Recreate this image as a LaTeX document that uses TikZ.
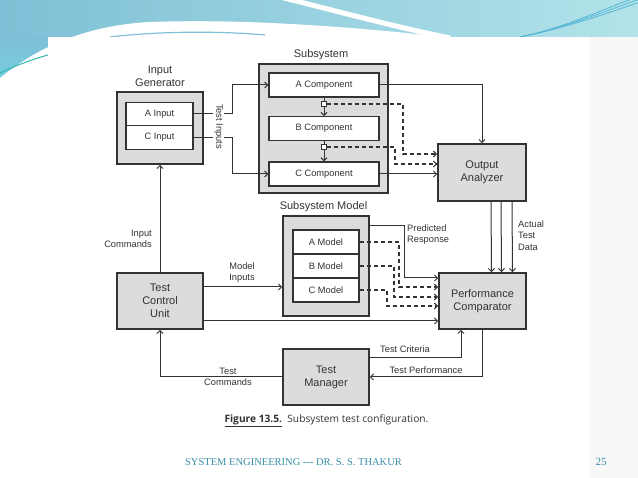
\documentclass[tikz,border=0pt]{standalone}
\usepackage{fontspec}
\setmainfont{Liberation Sans}
\newfontfamily\capfont{Open Sans}
\newfontfamily\footfont{Liberation Serif}
\usetikzlibrary{arrows.meta,calc}
\definecolor{ink}{HTML}{333333}
\definecolor{boxgray}{HTML}{DCDCDC}
\definecolor{hdrleft}{HTML}{7FC0D6}
\definecolor{hdrright}{HTML}{B2E3E9}
\definecolor{hdrlow}{HTML}{72CFDE}
\definecolor{streak}{HTML}{55B6D6}
\definecolor{tealline}{HTML}{2FB7A8}
\definecolor{sidegray}{HTML}{F7F7F7}
\definecolor{footteal}{HTML}{3A8FA8}

\tikzset{
  outerbox/.style={draw=ink, line width=1.6pt, fill=boxgray, inner sep=0pt},
  partbox/.style={draw=ink, line width=1.2pt, fill=white, inner sep=0pt,
    font=\fontsize{9.3}{11}\selectfont, text=ink},
  unitbox/.style={outerbox, align=center, font=\fontsize{11}{13}\selectfont, text=ink},
  title/.style={align=center, font=\fontsize{11}{13}\selectfont, text=ink},
  lbl/.style={align=center, font=\fontsize{9.3}{11.5}\selectfont, text=ink, inner sep=1pt},
  jct/.style={draw=ink, fill=white, line width=0.8pt, minimum size=4.5pt, inner sep=0pt},
  conn/.style={draw=ink, line width=1pt, -{Straight Barb[length=3pt,width=6pt]}},
  dconn/.style={conn, line width=1.2pt, dash pattern=on 4pt off 3pt},
  plain/.style={draw=ink, line width=1pt}
}

\begin{document}
\begin{tikzpicture}[x=1pt,y=-1pt]
  \useasboundingbox (0,0) rectangle (638,478);
  % slide background
  \fill[white] (0,0) rectangle (638,478);
  \fill[sidegray] (590,37) rectangle (638,478);
  \shade[left color=hdrleft, right color=hdrright] (0,0) rectangle (638,37);
  \shade[top color=hdrleft, bottom color=hdrlow] (0,37) rectangle (48,82);
  \fill[white] (0,78) .. controls (40,45) and (90,25) .. (150,22)
    .. controls (260,18) and (380,30) .. (445,37) -- (445,82) -- (0,82) -- cycle;
  \draw[white, line width=5pt] (280,-3) .. controls (340,12) and (400,28) .. (450,38);
  \draw[tealline, line width=1pt] (0,73) .. controls (15,66) and (30,60) .. (48,55);
  \draw[hdrleft, line width=1.2pt] (110,37) .. controls (160,31) and (220,31) .. (265,35);
  \foreach \dy in {0,3,6}
    \draw[streak, line width=0.8pt] (520,37) .. controls (565,28) and (605,\dy+8) .. (640,\dy-4);
  \fill[white] (48,37) rectangle (590,440);

  % input generator
  \node[title] (igtitle) at (160,76.5) {Input\\Generator};
  \node[outerbox, minimum width=86pt, minimum height=72pt] (ig) at (160,128) {};
  \node[partbox, minimum width=67pt, minimum height=23.5pt] (ain) at (159.5,114) {A Input};
  \node[partbox, minimum width=67pt, minimum height=23.5pt] (cin) at (159.5,137.5) {C Input};

  % subsystem
  \node[title] (sstitle) at (321,55) {Subsystem};
  \node[outerbox, minimum width=129pt, minimum height=129pt] (ss) at (323.5,128.5) {};
  \node[partbox, minimum width=110pt, minimum height=24pt] (acomp) at (324,85) {A Component};
  \node[partbox, minimum width=110pt, minimum height=23.5pt] (bcomp) at (324,128.5) {B Component};
  \node[partbox, minimum width=110pt, minimum height=24pt] (ccomp) at (324,174) {C Component};
  \node[jct] (j1) at (324,104) {};
  \node[jct] (j2) at (324,147) {};

  \node[unitbox, minimum width=88pt, minimum height=57pt] (oa) at (482,172.5) {Output\\Analyzer};

  % subsystem model
  \node[title] (smtitle) at (323.5,207) {Subsystem Model};
  \node[outerbox, minimum width=86pt, minimum height=100pt] (sm) at (326,266) {};
  \node[partbox, minimum width=66pt, minimum height=24pt] (amod) at (326,242) {A Model};
  \node[partbox, minimum width=66pt, minimum height=24pt] (bmod) at (326,266) {B Model};
  \node[partbox, minimum width=66pt, minimum height=24pt] (cmod) at (326,290) {C Model};

  \node[unitbox, minimum width=86pt, minimum height=56pt] (tcu) at (160,301) {Test\\Control\\Unit};
  \node[unitbox, minimum width=87pt, minimum height=56pt] (pc) at (482.5,301) {Performance\\Comparator};
  \node[unitbox, minimum width=86pt, minimum height=56pt] (tm) at (326,377) {Test\\Manager};

  % test inputs
  \coordinate (tbus) at (232,0);
  \draw[conn] (ain.east) -- (ain.east -| tbus) |- (acomp.west);
  \draw[conn] (cin.east) -- (cin.east -| tbus) |- (ccomp.west);
  \node[lbl, rotate=-90, fill=white] (tilbl) at (218.5,126.5) {Test Inputs};

  % inside the subsystem
  \draw[plain] (acomp.south) -- (j1.north);
  \draw[conn] (j1.south) -- (bcomp.north);
  \draw[plain] (bcomp.south) -- (j2.north);
  \draw[conn] (j2.south) -- (ccomp.north);

  % into the output analyzer
  \draw[conn] (acomp.east) -| (oa.north);
  \draw[conn] (ccomp.east) -- (ccomp.east -| oa.west);
  \coordinate (d1) at (403,154);
  \coordinate (d2) at (395,164);
  \draw[dconn] (j1.east) -| (d1) -- (d1 -| oa.west);
  \draw[dconn] (j2.east) -| (d2) -- (d2 -| oa.west);

  % test control unit outputs
  \draw[conn] (tcu.north) -- (ig.south);
  \node[lbl, align=right, anchor=east] (iclbl) at (153,239) {Input\\Commands};
  \coordinate (mi) at ([yshift=14pt]tcu.east);
  \draw[conn] (mi) -- (mi -| sm.west);
  \node[lbl] (milbl) at (242,272.5) {Model\\Inputs};
  \coordinate (tp) at ([yshift=-20pt]tcu.east);
  \draw[conn] (tp) -- (tp -| pc.west);

  % into the performance comparator
  \coordinate (pr) at ([yshift=40pt]sm.east);
  \coordinate (prb) at (404,278);
  \draw[conn] (pr) -| (prb) -- (prb -| pc.west);
  \node[lbl, align=left, anchor=west] (prlbl) at (406,234.5) {Predicted\\Response};
  \coordinate (ma) at (399,287);
  \coordinate (mb) at (394,297);
  \coordinate (mc) at (387,306);
  \draw[dconn] (amod.east) -| (ma) -- (ma -| pc.west);
  \draw[dconn] (bmod.east) -| (mb) -- (mb -| pc.west);
  \draw[dconn] (cmod.east) -| (mc) -- (mc -| pc.west);
  \foreach \dx in {9,19,30}
    \draw[conn] ([xshift=\dx pt]oa.south) -- ([xshift=\dx pt]pc.north);
  \node[lbl, align=left, anchor=west] (atdlbl) at (517,235.5) {Actual\\Test\\Data};

  % test manager
  \coordinate (tc) at ([xshift=-21.5pt]pc.south);
  \draw[conn] ([yshift=19pt]tm.east) -| (tc);
  \node[lbl] (tclbl) at (405,349) {Test Criteria};
  \draw[conn] (pc.south) |- (tm.east);
  \node[lbl] (tplbl) at (426,370.5) {Test Performance};
  \draw[conn] (tm.west) -| (tcu.south);
  \node[lbl] (tcmlbl) at (228,377) {Test\\Commands};

  % caption and footer
  \node[anchor=west, text=ink, font=\capfont\fontsize{10.2}{12}\selectfont] (cap) at (221,421)
    {\underline{\textbf{Figure 13.5.}}\ \ Subsystem test configuration.};
  \node[text=footteal, font=\footfont\fontsize{10.5}{12}\selectfont] (foot) at (293.5,462)
    {SYSTEM ENGINEERING -{}-{}- DR. S. S. THAKUR};
  \node[text=footteal, font=\footfont\fontsize{11}{12}\selectfont] (pgno) at (601,462) {25};
\end{tikzpicture}
\end{document}
